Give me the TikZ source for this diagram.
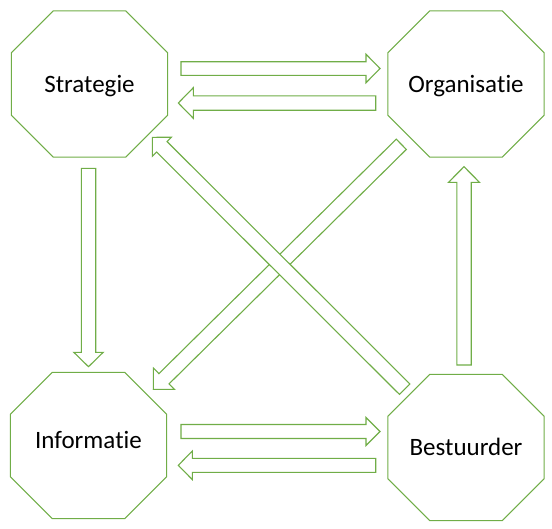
\documentclass[tikz,border=0pt]{standalone}
\usepackage{fontspec}
\setmainfont{Carlito}[RawFeature={-liga;-clig;-calt;-dlig}]
\usetikzlibrary{calc}
\definecolor{octgreen}{HTML}{70AD47}
\tikzset{
  oct/.style={minimum width=156pt, minimum height=146pt, inner sep=0pt,
    font=\fontsize{25}{30}\selectfont, text height=18pt, text depth=1.4pt},
  octline/.style={draw=octgreen, line width=1pt},
  arr/.style={draw=octgreen, fill=white, line width=1.1pt, line join=miter},
}
\newcommand{\blkarrow}[5]{% from, to, shaft half width, head half width, head length
  \coordinate (hb) at ($(#2)!#5pt!(#1)$);
  \draw[arr] ($(#1)!#3pt!90:(#2)$) -- ($(hb)!#3pt!-90:(#1)$) -- ($(hb)!#4pt!-90:(#1)$)
    -- (#2) -- ($(hb)!#4pt!90:(#1)$) -- ($(hb)!#3pt!90:(#1)$) -- ($(#1)!#3pt!-90:(#2)$) -- cycle;}
\begin{document}
\begin{tikzpicture}[x=1pt, y=-1pt]
\useasboundingbox (0,0) rectangle (552,528);
% nodes
\node[oct] (strat) at (89.5,84) {Strategie};
\node[oct] (org) at (466,84) {Organisa\kern0pt tie};
\node[oct, text depth=12pt] (info) at (88.5,445.5) {Informa\kern0pt tie};
\node[oct] (best) at (466,447.5) {Bestuurder};
% octagon outlines
\foreach \n in {strat,org,info,best}{
  \draw[octline] ($(\n.north west)+(42,0)$) -- ($(\n.north east)+(-42,0)$)
    -- ($(\n.north east)+(0,42)$) -- ($(\n.south east)+(0,-42)$)
    -- ($(\n.south east)+(-42,0)$) -- ($(\n.south west)+(42,0)$)
    -- ($(\n.south west)+(0,-42)$) -- ($(\n.north west)+(0,42)$) -- cycle;
}
% arrow end points
\coordinate (a1) at (181,68.5);   \coordinate (b1) at (380,68.5);
\coordinate (a2) at (375.7,103);  \coordinate (b2) at (178.3,103);
\coordinate (a3) at (181,431.5);  \coordinate (b3) at (380,431.5);
\coordinate (a4) at (375.7,465.3);\coordinate (b4) at (178.3,465.3);
\coordinate (a5) at (88.5,168.3); \coordinate (b5) at (88.5,366.7);
\coordinate (a6) at (464,365);    \coordinate (b6) at (464,166.7);
\coordinate (a8) at (401.3,144.3);\coordinate (b8) at (153.3,389.3);
\coordinate (a7) at (404.7,389.2);\coordinate (b7) at (152.3,137.3);
% arrows
\blkarrow{a1}{b1}{6.8}{14.3}{14}
\blkarrow{a2}{b2}{7.2}{15.3}{15}
\blkarrow{a3}{b3}{7}{14}{14}
\blkarrow{a4}{b4}{7}{14.3}{14}
\blkarrow{a5}{b5}{7.2}{14.7}{14.4}
\blkarrow{a6}{b6}{7.2}{15.5}{15.6}
\blkarrow{a8}{b8}{7.2}{15}{15}
\blkarrow{a7}{b7}{7.4}{13.5}{13.5}
\end{tikzpicture}
\end{document}
